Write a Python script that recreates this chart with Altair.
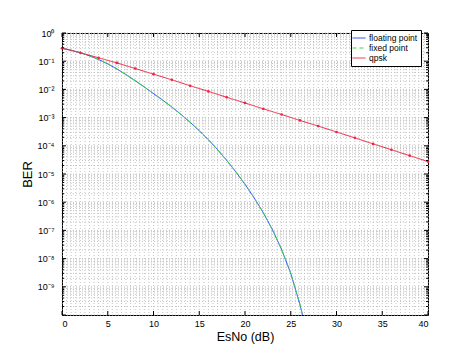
import altair as alt
import pandas as pd

# ---- data ----
esno_curve = list(range(0, 28))
ber_floating = [0.288, 0.245, 0.200, 0.155, 0.115, 0.0804, 0.0531, 0.0335, 0.0204, 0.0122,
                7.08e-3, 4.17e-3, 2.37e-3, 1.30e-3, 6.84e-4, 3.43e-4, 1.64e-4, 7.33e-5,
                3.05e-5, 1.19e-5, 4.32e-6, 1.43e-6, 4.22e-7, 1.06e-7, 2.11e-8, 2.99e-9,
                2.37e-10, 1.19e-11]
ber_fixed = [0.288, 0.245, 0.200, 0.155, 0.115, 0.0804, 0.0531, 0.0335, 0.0204, 0.0122,
             7.08e-3, 4.17e-3, 2.37e-3, 1.30e-3, 6.84e-4, 3.43e-4, 1.64e-4, 7.33e-5,
             3.05e-5, 1.19e-5, 4.32e-6, 1.43e-6, 4.22e-7, 1.06e-7, 2.11e-8, 2.99e-9,
             2.37e-10, 1.19e-11]
esno_qpsk = list(range(0, 41, 2))
ber_qpsk = [0.288, 0.200, 0.132, 0.0871, 0.0550, 0.0347, 0.0219, 0.0135, 8.51e-3, 5.25e-3,
            3.31e-3, 2.04e-3, 1.29e-3, 7.94e-4, 5.01e-4, 3.09e-4, 1.91e-4, 1.17e-4,
            7.24e-5, 4.47e-5, 2.75e-5]

series_names = ["floating point", "fixed point", "qpsk"]
series_colors = ["#1f3fff", "#33dd44", "#ee2244"]

x_ticks = [0, 5, 10, 15, 20, 25, 30, 35, 40]
x_minor = [i * 0.5 for i in range(81)]
y_decades = [10.0 ** -k for k in range(0, 11)]
y_labeled = [10.0 ** -k for k in range(0, 10)]
y_minor = [m * 10.0 ** -k for k in range(1, 11) for m in range(2, 10)]

W, H = 366, 282
FONT = "Liberation Sans"

rows = []
for x, v in zip(esno_curve, ber_floating):
    rows.append({"series": "floating point", "esno": x, "ber": v})
for x, v in zip(esno_curve, ber_fixed):
    rows.append({"series": "fixed point", "esno": x, "ber": v})
for x, v in zip(esno_qpsk, ber_qpsk):
    rows.append({"series": "qpsk", "esno": x, "ber": v})
df = pd.DataFrame(rows)

xscale = alt.Scale(domain=[0, 40], nice=False, zero=False)
yscale = alt.Scale(type="log", domain=[1e-10, 1], nice=False)

xaxis = alt.Axis(values=x_ticks, ticks=False, domain=False, grid=False,
                 labelFontSize=9, labelPadding=4, labelFont=FONT, labelColor="black",
                 title="EsNo (dB)", titleFontSize=12.5, titleFontWeight="normal",
                 titleFont=FONT, titleColor="black", titlePadding=2)
label_expr = ("'10' + (datum.value >= 0.5 ? '⁰' : '⁻' + substring('⁰¹²³⁴⁵⁶⁷⁸⁹', "
              "round(-log(datum.value)/LN10), round(-log(datum.value)/LN10) + 1))")
yaxis = alt.Axis(values=y_labeled, ticks=False, domain=False, grid=False,
                 labelFontSize=9, labelPadding=8, labelFont=FONT, labelColor="black",
                 labelExpr=label_expr,
                 title="BER", titleFontSize=13, titleFontWeight="normal",
                 titleFont=FONT, titleColor="black", titlePadding=3)

legend = alt.Legend(title=None, orient="none", legendX=289, legendY=-3,
                    fillColor="white", strokeColor="black", padding=3, cornerRadius=0,
                    labelFontSize=8.5, labelFont=FONT, labelColor="black",
                    symbolType="M-1.45,0L1.45,0", symbolSize=81, symbolStrokeWidth=1,
                    rowPadding=0, labelOffset=5, labelLimit=200)

color = alt.Color("series:N", scale=alt.Scale(domain=series_names, range=series_colors),
                  legend=legend)
dash = alt.StrokeDash("series:N",
                      scale=alt.Scale(domain=series_names, range=[[1, 0], [4, 3], [1, 0]]),
                      legend=legend)


def X(field):
    return alt.X(field, scale=xscale, axis=xaxis)


def Y(field):
    return alt.Y(field, scale=yscale, axis=yaxis)


grid_style = dict(stroke="#c4c4c4", strokeDash=[1, 2], strokeWidth=1)

xgrid = alt.Chart(pd.DataFrame({"x": x_minor})).mark_rule(**grid_style).encode(x=X("x:Q"))
ygrid = alt.Chart(pd.DataFrame({"y": y_minor + y_decades})).mark_rule(**grid_style).encode(
    y=Y("y:Q"))

base = alt.Chart(df)
enc = dict(x=X("esno:Q"), y=Y("ber:Q"), color=color, strokeDash=dash)
line_float = base.transform_filter(alt.datum.series == "floating point").mark_line(
    strokeWidth=1, clip=True).encode(**enc)
line_fixed = base.transform_filter(alt.datum.series == "fixed point").mark_line(
    strokeWidth=1, clip=True).encode(**enc)
line_qpsk = base.transform_filter(alt.datum.series == "qpsk").mark_line(
    strokeWidth=1, clip=True).encode(**enc)
dots_qpsk = base.transform_filter(alt.datum.series == "qpsk").mark_circle(
    size=7, color=series_colors[2], opacity=1).encode(x=X("esno:Q"), y=Y("ber:Q"))

tick_style = dict(color="black", strokeWidth=1)
xt = pd.DataFrame({"x": x_ticks})
yt = pd.DataFrame({"y": y_decades})
ym = pd.DataFrame({"y": y_minor})
ticks = [
    alt.Chart(xt).mark_rule(**tick_style).encode(x=X("x:Q"), y=alt.value(0), y2=alt.value(4)),
    alt.Chart(xt).mark_rule(**tick_style).encode(x=X("x:Q"), y=alt.value(H - 4), y2=alt.value(H)),
    alt.Chart(yt).mark_rule(**tick_style).encode(y=Y("y:Q"), x=alt.value(0), x2=alt.value(4)),
    alt.Chart(yt).mark_rule(**tick_style).encode(y=Y("y:Q"), x=alt.value(W - 4), x2=alt.value(W)),
    alt.Chart(ym).mark_rule(**tick_style).encode(y=Y("y:Q"), x=alt.value(0), x2=alt.value(2)),
    alt.Chart(ym).mark_rule(**tick_style).encode(y=Y("y:Q"), x=alt.value(W - 2), x2=alt.value(W)),
]

chart = alt.layer(
    xgrid, ygrid, line_float, line_fixed, line_qpsk, dots_qpsk, *ticks
).properties(
    width=W, height=H,
    autosize=alt.AutoSizeParams(type="none"),
    padding={"left": 62, "top": 33, "right": 46, "bottom": 36},
    background="white",
).configure_view(stroke="black", strokeWidth=1)

chart.save("out.html", embed_options={"renderer": "svg", "actions": False})
